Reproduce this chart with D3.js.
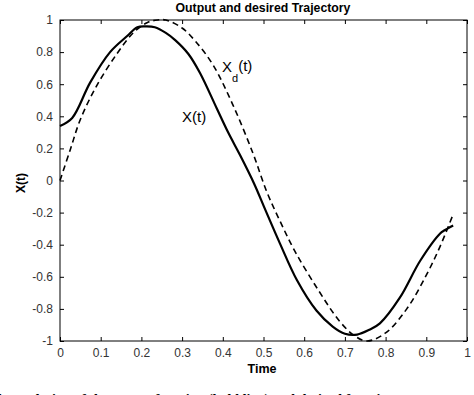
<!DOCTYPE html>
<html>
<head>
<meta charset="utf-8">
<script src="https://cdn.jsdelivr.net/npm/d3@7"></script>
<style>
  body { margin: 0; background: #fff; overflow: hidden; }
  svg { display: block; }
</style>
</head>
<body>
<svg></svg>
<script>
let tActual = [0, 0.03, 0.074, 0.123, 0.165, 0.19, 0.212, 0.233, 0.26, 0.283, 0.315, 0.344, 0.385, 0.413, 0.442, 0.477, 0.504, 0.54, 0.582, 0.63, 0.67, 0.70, 0.73, 0.76, 0.786, 0.835, 0.885, 0.934, 0.945, 0.966];
let xActual = [0.34, 0.39, 0.61, 0.80, 0.90, 0.955, 0.96, 0.955, 0.92, 0.875, 0.79, 0.67, 0.45, 0.30, 0.16, -0.02, -0.18, -0.39, -0.62, -0.81, -0.91, -0.955, -0.96, -0.93, -0.89, -0.73, -0.50, -0.33, -0.31, -0.28];
// desired trajectory Xd(t)
let tDesired = [0, 0.025, 0.05, 0.09, 0.14, 0.18, 0.215, 0.24, 0.26, 0.30, 0.332, 0.376, 0.425, 0.474, 0.508, 0.54, 0.577, 0.634, 0.688, 0.725, 0.755, 0.80, 0.852, 0.90, 0.934, 0.966];
let xDesired = [0, 0.19, 0.38, 0.59, 0.79, 0.92, 0.985, 1.0, 1.0, 0.95, 0.87, 0.72, 0.47, 0.17, -0.07, -0.25, -0.44, -0.68, -0.88, -0.97, -1.0, -0.95, -0.8, -0.59, -0.41, -0.21];
// tick labels
let xTicks = [0, 0.1, 0.2, 0.3, 0.4, 0.5, 0.6, 0.7, 0.8, 0.9, 1];
let yTicks = [-1, -0.8, -0.6, -0.4, -0.2, 0, 0.2, 0.4, 0.6, 0.8, 1];

let width = 474;
let height = 395;
let plotLeft = 60, plotRight = 467, plotTop = 20, plotBottom = 341;

let svg = d3.select("svg").attr("width", width).attr("height", height);

let xScale = d3.scaleLinear().domain([0, 1]).range([plotLeft, plotRight]);
let yScale = d3.scaleLinear().domain([-1, 1]).range([plotBottom, plotTop]);

let fmt = (d) => (d === 0 ? "0" : String(d));
let tickFont = "Liberation Sans, Arial, sans-serif";

//axes with inward ticks on all four sides, matlab style
let styleAxis = (g) => {
  g.select(".domain").remove();
  g.selectAll(".tick line").attr("stroke", "#000");
  g.selectAll("text").attr("fill", "#333").style("font-family", tickFont).style("font-size", "12px");
};

svg.append("g")
  .attr("transform", "translate(0," + plotBottom + ")")
  .call(d3.axisBottom(xScale).tickValues(xTicks).tickFormat(fmt).tickSizeInner(-4).tickSizeOuter(0).tickPadding(7))
  .call(styleAxis);

svg.append("g")
  .attr("transform", "translate(0," + plotTop + ")")
  .call(d3.axisTop(xScale).tickValues(xTicks).tickFormat("").tickSizeInner(-4).tickSizeOuter(0))
  .call(styleAxis);

svg.append("g")
  .attr("transform", "translate(" + plotLeft + ",0)")
  .call(d3.axisLeft(yScale).tickValues(yTicks).tickFormat(fmt).tickSizeInner(-4).tickSizeOuter(0).tickPadding(7))
  .call(styleAxis);

svg.append("g")
  .attr("transform", "translate(" + plotRight + ",0)")
  .call(d3.axisRight(yScale).tickValues(yTicks).tickFormat("").tickSizeInner(-4).tickSizeOuter(0))
  .call(styleAxis);

//plot box
svg.append("rect")
  .attr("x", plotLeft).attr("y", plotTop)
  .attr("width", plotRight - plotLeft).attr("height", plotBottom - plotTop)
  .attr("fill", "none").attr("stroke", "#000").attr("stroke-width", 1);

let line = d3.line()
  .x((d) => xScale(d[0]))
  .y((d) => yScale(d[1]))
  .curve(d3.curveCatmullRom.alpha(0.5));

svg.append("path")
  .datum(tDesired.map((t, i) => [t, xDesired[i]]))
  .attr("d", line)
  .attr("fill", "none").attr("stroke", "#000")
  .attr("stroke-width", 1.6).attr("stroke-dasharray", "6,4");

svg.append("path")
  .datum(tActual.map((t, i) => [t, xActual[i]]))
  .attr("d", line)
  .attr("fill", "none").attr("stroke", "#000")
  .attr("stroke-width", 2.2);

//texts
svg.append("text")
  .attr("x", 263).attr("y", 12)
  .attr("text-anchor", "middle")
  .style("font-family", tickFont).style("font-size", "12.3px").style("font-weight", "bold")
  .text("Output and desired Trajectory");

svg.append("text")
  .attr("x", 262).attr("y", 373)
  .attr("text-anchor", "middle")
  .style("font-family", tickFont).style("font-size", "12.5px").style("font-weight", "bold")
  .text("Time");

svg.append("text")
  .attr("transform", "translate(25,183) rotate(-90)")
  .attr("text-anchor", "middle")
  .style("font-family", tickFont).style("font-size", "12px").style("font-weight", "bold")
  .text("X(t)");

let lbl = svg.append("text")
  .attr("x", 222).attr("y", 72)
  .style("font-family", tickFont).style("font-size", "15px");
lbl.append("tspan").text("X");
lbl.append("tspan").attr("dy", 10).style("font-size", "11px").text("d");
lbl.append("tspan").attr("dy", -11).text("(t)");

svg.append("text")
  .attr("x", 182).attr("y", 122)
  .style("font-family", tickFont).style("font-size", "15px")
  .text("X(t)");

//caption cut off at the bottom edge, as in the source figure
svg.append("text")
  .attr("x", -2).attr("y", 404)
  .style("font-family", "Liberation Serif, serif").style("font-size", "14px").style("font-weight", "bold")
  .text("he evolution of the output function (bold line) and desired function");
</script>
</body>
</html>
